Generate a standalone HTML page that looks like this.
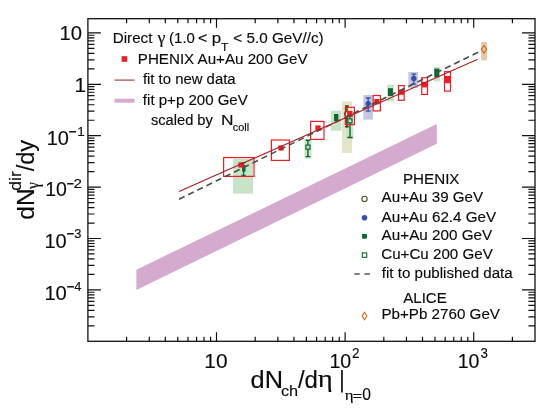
<!DOCTYPE html>
<html lang="en"><head><meta charset="utf-8"><title>Direct photon yield vs charged multiplicity</title>
<style>html,body{margin:0;padding:0;background:#fff;}body{width:550px;height:413px;overflow:hidden;}svg{display:block;font-family:"Liberation Sans",sans-serif;}text{fill:#0c0c0c;stroke:#0c0c0c;stroke-width:0.15px;}.sym{font-family:"Liberation Serif",serif;}</style></head><body>
<svg width="550" height="413" viewBox="0 0 550 413">
<rect x="0" y="0" width="550" height="413" fill="#ffffff"/>
<polygon points="136.4,269.7 436.8,124 436.8,143.8 136.4,289.9" fill="#d4abcf"/>
<rect x="233.0" y="159.0" width="20.0" height="34.6" fill="#c8e3c7"/>
<rect x="304.4" y="139.4" width="7.1" height="19.3" fill="#c8e3c7"/>
<rect x="330.8" y="110.7" width="10.6" height="20.1" fill="#c8e3c7"/>
<rect x="342.0" y="101.3" width="10.0" height="51.6" fill="#e4e6c9"/>
<rect x="346.2" y="112.0" width="7.1" height="26.8" fill="#c8e3c7"/>
<rect x="363.3" y="95.0" width="9.6" height="24.6" fill="#c6c6e3"/>
<rect x="387.1" y="84.8" width="6.8" height="16.6" fill="#c8e3c7"/>
<rect x="408.4" y="72.0" width="9.6" height="16.0" fill="#c6c6e3"/>
<rect x="433.9" y="67.1" width="6.0" height="14.3" fill="#c8e3c7"/>
<rect x="481.2" y="42.0" width="5.8" height="18.4" fill="#e6c9ab"/>
<path d="M346.9,106.0V126.7M345.0,106.0H348.8M345.0,126.7H348.8" stroke="#3a3a12" stroke-width="1.5" fill="none"/>
<circle cx="347" cy="114" r="2.4" fill="#fff" stroke="#4a4a18" stroke-width="1.1"/>
<path d="M243.6,162.6V175.4M241.4,162.6H245.8M241.4,175.4H245.8" stroke="#0f6630" stroke-width="1.3" fill="none"/>
<rect x="242.1" y="165.0" width="3.4" height="6.6" fill="#0f6630"/>
<rect x="334.0" y="114.0" width="4.4" height="7" fill="#0f6630"/>
<rect x="388.0" y="88.2" width="4.9" height="7.8" fill="#0f6630"/>
<rect x="434.3" y="68.6" width="5" height="8.6" fill="#0f6630"/>
<path d="M307.9,140.2V156.6M305.6,140.2H310.3M305.6,156.6H310.3" stroke="#0f6630" stroke-width="1.4" fill="none"/>
<rect x="305.9" y="145.1" width="4.1" height="4.1" fill="#c8e3c7" stroke="#0f6630" stroke-width="1.2"/>
<path d="M350.0,116.0V137.5M347.3,116.0H352.7M347.3,137.5H352.7" stroke="#0f6630" stroke-width="1.4" fill="none"/>
<rect x="347.9" y="118.8" width="4.1" height="4.1" fill="#c8e3c7" stroke="#0f6630" stroke-width="1.2"/>
<path d="M368.2,98.0V111.2M365.8,98.0H370.6M365.8,111.2H370.6" stroke="#3251ae" stroke-width="1.3" fill="none"/>
<circle cx="368.2" cy="103.6" r="2.7" fill="#3251ae"/>
<path d="M413.8,74.2V84.2M411.4,74.2H416.2M411.4,84.2H416.2" stroke="#3251ae" stroke-width="1.3" fill="none"/>
<circle cx="413.8" cy="78.5" r="2.7" fill="#3251ae"/>
<path d="M484,45.5L486.7,49.3L484,53.1L481.3,49.3Z" fill="#e6c9ab" stroke="#d2691e" stroke-width="1.25"/>
<rect x="223.6" y="157.6" width="30.4" height="18.8" fill="none" stroke="#ee1c25" stroke-width="1.2"/>
<rect x="238.4" y="162.4" width="5.2" height="5.2" fill="#ee1c25"/>
<rect x="271.4" y="140.0" width="18.0" height="20.4" fill="none" stroke="#ee1c25" stroke-width="1.2"/>
<rect x="278.4" y="145.4" width="5.2" height="5.2" fill="#ee1c25"/>
<rect x="310.6" y="121.4" width="13.4" height="18.0" fill="none" stroke="#ee1c25" stroke-width="1.2"/>
<rect x="315.4" y="125.4" width="5.2" height="5.2" fill="#ee1c25"/>
<rect x="345.4" y="107.3" width="9.0" height="17.3" fill="none" stroke="#ee1c25" stroke-width="1.2"/>
<rect x="347.2" y="110.9" width="5.2" height="5.2" fill="#ee1c25"/>
<rect x="373.2" y="95.5" width="7.2" height="15.4" fill="none" stroke="#ee1c25" stroke-width="1.2"/>
<rect x="374.3" y="99.0" width="5.2" height="5.2" fill="#ee1c25"/>
<rect x="398.5" y="85.6" width="5.7" height="14.7" fill="none" stroke="#ee1c25" stroke-width="1.2"/>
<rect x="398.8" y="89.6" width="5.2" height="5.2" fill="#ee1c25"/>
<rect x="421.7" y="77.7" width="5.8" height="16.7" fill="none" stroke="#ee1c25" stroke-width="1.2"/>
<rect x="421.8" y="81.8" width="5.6" height="5.6" fill="#ee1c25"/>
<rect x="444.5" y="71.7" width="6.0" height="19.4" fill="none" stroke="#ee1c25" stroke-width="1.2"/>
<rect x="444.6" y="76.7" width="5.8" height="5.8" fill="#ee1c25"/>
<rect x="444.6" y="76" width="5.8" height="7.2" fill="#ee1c25"/>
<line x1="179" y1="199.2" x2="478.2" y2="52.2" stroke="#4c4c4c" stroke-width="1.6" stroke-dasharray="6.2,4.02"/>
<line x1="179" y1="191.6" x2="477.7" y2="59.2" stroke="#a82222" stroke-width="1.1"/>
<rect x="87.9" y="18.7" width="447.1" height="322.6" fill="none" stroke="#111" stroke-width="1.3"/>
<path d="M126.61,341.3v-4.5M126.61,18.7v4.5M149.26,341.3v-4.5M149.26,18.7v4.5M165.32,341.3v-4.5M165.32,18.7v4.5M177.79,341.3v-4.5M177.79,18.7v4.5M187.97,341.3v-4.5M187.97,18.7v4.5M196.58,341.3v-4.5M196.58,18.7v4.5M204.04,341.3v-4.5M204.04,18.7v4.5M210.62,341.3v-4.5M210.62,18.7v4.5M216.50,341.3v-9M216.50,18.7v9M255.21,341.3v-4.5M255.21,18.7v4.5M277.86,341.3v-4.5M277.86,18.7v4.5M293.92,341.3v-4.5M293.92,18.7v4.5M306.39,341.3v-4.5M306.39,18.7v4.5M316.57,341.3v-4.5M316.57,18.7v4.5M325.18,341.3v-4.5M325.18,18.7v4.5M332.64,341.3v-4.5M332.64,18.7v4.5M339.22,341.3v-4.5M339.22,18.7v4.5M345.10,341.3v-9M345.10,18.7v9M383.81,341.3v-4.5M383.81,18.7v4.5M406.46,341.3v-4.5M406.46,18.7v4.5M422.52,341.3v-4.5M422.52,18.7v4.5M434.99,341.3v-4.5M434.99,18.7v4.5M445.17,341.3v-4.5M445.17,18.7v4.5M453.78,341.3v-4.5M453.78,18.7v4.5M461.24,341.3v-4.5M461.24,18.7v4.5M467.82,341.3v-4.5M467.82,18.7v4.5M473.70,341.3v-9M473.70,18.7v9M512.41,341.3v-4.5M512.41,18.7v4.5M87.9,325.83h6.6M535.0,325.83h-6.6M87.9,316.78h6.6M535.0,316.78h-6.6M87.9,310.35h6.6M535.0,310.35h-6.6M87.9,305.37h6.6M535.0,305.37h-6.6M87.9,301.30h6.6M535.0,301.30h-6.6M87.9,297.86h6.6M535.0,297.86h-6.6M87.9,294.88h6.6M535.0,294.88h-6.6M87.9,292.25h6.6M535.0,292.25h-6.6M87.9,289.90h13M535.0,289.90h-13M87.9,274.43h6.6M535.0,274.43h-6.6M87.9,265.38h6.6M535.0,265.38h-6.6M87.9,258.95h6.6M535.0,258.95h-6.6M87.9,253.97h6.6M535.0,253.97h-6.6M87.9,249.90h6.6M535.0,249.90h-6.6M87.9,246.46h6.6M535.0,246.46h-6.6M87.9,243.48h6.6M535.0,243.48h-6.6M87.9,240.85h6.6M535.0,240.85h-6.6M87.9,238.50h13M535.0,238.50h-13M87.9,223.03h6.6M535.0,223.03h-6.6M87.9,213.98h6.6M535.0,213.98h-6.6M87.9,207.55h6.6M535.0,207.55h-6.6M87.9,202.57h6.6M535.0,202.57h-6.6M87.9,198.50h6.6M535.0,198.50h-6.6M87.9,195.06h6.6M535.0,195.06h-6.6M87.9,192.08h6.6M535.0,192.08h-6.6M87.9,189.45h6.6M535.0,189.45h-6.6M87.9,187.10h13M535.0,187.10h-13M87.9,171.63h6.6M535.0,171.63h-6.6M87.9,162.58h6.6M535.0,162.58h-6.6M87.9,156.15h6.6M535.0,156.15h-6.6M87.9,151.17h6.6M535.0,151.17h-6.6M87.9,147.10h6.6M535.0,147.10h-6.6M87.9,143.66h6.6M535.0,143.66h-6.6M87.9,140.68h6.6M535.0,140.68h-6.6M87.9,138.05h6.6M535.0,138.05h-6.6M87.9,135.70h13M535.0,135.70h-13M87.9,120.23h6.6M535.0,120.23h-6.6M87.9,111.18h6.6M535.0,111.18h-6.6M87.9,104.75h6.6M535.0,104.75h-6.6M87.9,99.77h6.6M535.0,99.77h-6.6M87.9,95.70h6.6M535.0,95.70h-6.6M87.9,92.26h6.6M535.0,92.26h-6.6M87.9,89.28h6.6M535.0,89.28h-6.6M87.9,86.65h6.6M535.0,86.65h-6.6M87.9,84.30h13M535.0,84.30h-13M87.9,68.83h6.6M535.0,68.83h-6.6M87.9,59.78h6.6M535.0,59.78h-6.6M87.9,53.35h6.6M535.0,53.35h-6.6M87.9,48.37h6.6M535.0,48.37h-6.6M87.9,44.30h6.6M535.0,44.30h-6.6M87.9,40.86h6.6M535.0,40.86h-6.6M87.9,37.88h6.6M535.0,37.88h-6.6M87.9,35.25h6.6M535.0,35.25h-6.6M87.9,32.90h13M535.0,32.90h-13" stroke="#111" stroke-width="1.2" fill="none"/>
<text transform="translate(204.33,367.70) scale(1.005,0.996)" font-size="20.8">10</text>
<text transform="translate(329.43,367.90) scale(0.942,1.010)" font-size="20.8">10</text>
<text transform="translate(352.02,358.00) scale(1.009,1.016)" font-size="13.5">2</text>
<text transform="translate(457.73,367.90) scale(0.942,1.010)" font-size="20.8">10</text>
<text transform="translate(480.47,358.40) scale(0.982,1.048)" font-size="13.5">3</text>
<text transform="translate(59.58,39.50) scale(0.976,1.010)" font-size="20.8">10</text>
<text x="74.40" y="92.2" font-size="20.8">1</text>
<text transform="translate(46.70,144.70) scale(0.962,1.010)" font-size="20.8">10</text>
<text transform="translate(68.40,138.07) scale(1.039,1.376)" font-size="13.5">−</text>
<text x="77.17" y="135.6" font-size="13.5">1</text>
<text transform="translate(45.14,196.30) scale(0.937,0.982)" font-size="20.8">10</text>
<text transform="translate(66.45,189.77) scale(0.962,1.376)" font-size="13.5">−</text>
<text transform="translate(73.54,187.80) scale(1.123,0.984)" font-size="13.5">2</text>
<text transform="translate(44.40,247.60) scale(0.962,1.010)" font-size="20.8">10</text>
<text transform="translate(66.43,240.27) scale(0.993,1.376)" font-size="13.5">−</text>
<text transform="translate(74.29,237.70) scale(0.951,1.005)" font-size="13.5">3</text>
<text transform="translate(44.38,299.80) scale(0.971,1.016)" font-size="20.8">10</text>
<text transform="translate(66.41,293.37) scale(1.023,1.376)" font-size="13.5">−</text>
<text transform="translate(74.14,290.70) scale(0.953,0.998)" font-size="13.5">4</text>
<text transform="translate(250.59,387.60) scale(1.035,0.996)" font-size="24.5">dN</text>
<text transform="translate(280.95,395.70) scale(1.026,0.972)" font-size="15.9">ch</text>
<text transform="translate(297.90,387.60) scale(0.981,0.996)" font-size="24.5">/d</text>
<text transform="translate(317.67,386.98) scale(1.175,1.067)" font-size="24.5" class="sym">η</text>
<line x1="341.95" y1="370" x2="341.95" y2="392.6" stroke="#111" stroke-width="1.7"/>
<text transform="translate(344.65,399.94) scale(1.064,0.982)" font-size="15.9" class="sym">η</text>
<text transform="translate(352.48,399.73) scale(1.037,0.851)" font-size="15.9">=</text>
<text transform="translate(362.18,400.24) scale(0.983,1.036)" font-size="15.9">0</text>
<g transform="rotate(-90)">
<text transform="translate(-219.68,33.50) scale(0.997,1.008)" font-size="24.5">dN</text>
<text transform="translate(-190.81,20.60) scale(1.102,1.000)" font-size="16">dir</text>
<text transform="translate(-189.00,38.98) scale(0.967,1.111)" font-size="16" class="sym">γ</text>
<text transform="translate(-171.30,33.50) scale(0.963,1.013)" font-size="24.5">/dy</text>
</g>
<text transform="translate(112.79,42.8) scale(0.991,1)" font-size="15.3">Direct</text>
<text transform="translate(157.50,42.56) scale(1.116,1.000)" font-size="16" class="sym">γ</text>
<text transform="translate(169.10,42.8) scale(0.981,1)" font-size="15.3">(1.0</text>
<text transform="translate(198.10,42.8) scale(1.051,1)" font-size="15.3">&lt;</text>
<text transform="translate(211.80,42.8) scale(1.104,1)" font-size="15.3">p</text>
<text transform="translate(221.06,50.9) scale(1.175,1)" font-size="10.3">T</text>
<text transform="translate(233.24,42.8) scale(0.999,1)" font-size="15.3">&lt; 5.0 GeV//c)</text>
<rect x="121.6" y="56.2" width="5.6" height="5.6" fill="#ee1c25"/>
<text transform="translate(137.79,63.5) scale(0.991,1)" font-size="15.3">PHENIX Au+Au 200 GeV</text>
<line x1="114.5" y1="80.1" x2="134.6" y2="80.1" stroke="#b04a4a" stroke-width="1.25"/>
<text transform="translate(142.88,84.1) scale(0.974,1)" font-size="15.3">fit to new data</text>
<line x1="114.5" y1="100.7" x2="134.6" y2="100.7" stroke="#d4abcf" stroke-width="4"/>
<text transform="translate(142.87,104.6) scale(0.984,1)" font-size="15.3">fit p+p 200 GeV</text>
<text transform="translate(150.96,125.2) scale(0.958,1)" font-size="15.3">scaled by</text>
<text transform="translate(220.91,125.2) scale(1.132,1)" font-size="15.3">N</text>
<text transform="translate(232.76,130.9) scale(1.058,1)" font-size="10.3">coll</text>
<text transform="translate(402.98,183.7) scale(0.993,1)" font-size="15.3">PHENIX</text>
<circle cx="364.5" cy="198.9" r="2.6" fill="#fff" stroke="#4a4a18" stroke-width="1.1"/>
<text transform="translate(381.60,202.1) scale(0.991,1)" font-size="15.3">Au+Au 39 GeV</text>
<circle cx="364.5" cy="217.7" r="2.8" fill="#3251ae"/>
<text transform="translate(381.60,221.6) scale(0.995,1)" font-size="15.3">Au+Au 62.4 GeV</text>
<rect x="362.1" y="233.9" width="4.8" height="4.8" fill="#0f6630"/>
<text transform="translate(381.60,240.1) scale(0.997,1)" font-size="15.3">Au+Au 200 GeV</text>
<rect x="362.3" y="252.9" width="4.4" height="4.4" fill="#fff" stroke="#0f6630" stroke-width="1.1"/>
<text transform="translate(381.24,258.7) scale(0.990,1)" font-size="15.3">Cu+Cu 200 GeV</text>
<path d="M354.3,273.9h5.4M364.5,273.9h5.4" stroke="#555" stroke-width="1.5"/>
<text transform="translate(381.77,277.6) scale(0.988,1)" font-size="15.3">fit to published data</text>
<text transform="translate(403.30,302.6) scale(0.984,1)" font-size="15.3">ALICE</text>
<path d="M364.5,312.2L366.9,316L364.5,319.8L362.1,316Z" fill="#fff" stroke="#d2691e" stroke-width="1.1"/>
<text transform="translate(381.38,318.7) scale(0.993,1)" font-size="15.3">Pb+Pb 2760 GeV</text>
</svg></body></html>
